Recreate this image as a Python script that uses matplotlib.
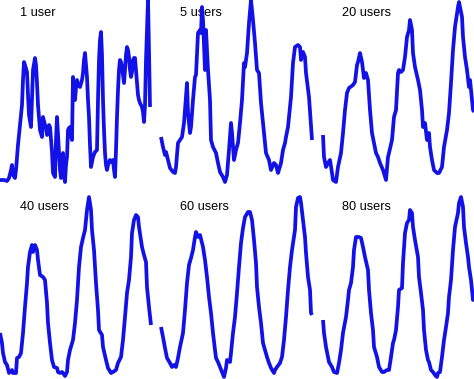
import matplotlib
matplotlib.use("Agg")
import matplotlib.pyplot as plt

# ---- data (time index, normalized load) ----
labels = ["1 user", "5 users", "20 users", "40 users", "60 users", "80 users"]

t1 = [0,4,7,9,11,12,13,15,16,18, 20,22,23,24,25,27,28,29,31,32,
      33,35,36,37,38,39,40,42,43,45, 46,47,48,49,50,51,52,53,55,56,
      57,58,59,60,61,62,63,64,65,66, 67,68,69,70,71,72,73,74,75,76,
      77,78,80,82,83,84,85,86,87,88, 89,90,91,92,93,95,97,98,99,100,
      101,102,103,104,105,106,107,108,110,112, 113,114,115,116,117,118,119,120,121,122,
      123,124,125,126,127,128,129,130,131,132, 133,134,135,136,137,138,139,140,141,142,
      143,144,145,146,147,148,149,150]
load1 = [10,10,9,12,20,25,15,12,20,45, 65,85,110,128,125,118,95,75,63,90,
         120,132,125,107,85,73,60,53,73,65, 63,55,57,65,63,50,38,17,13,50,
         73,55,38,20,12,30,37,15,8,25, 33,60,62,63,55,50,113,100,90,102,
         110,105,103,110,117,130,137,125,113,90, 73,45,23,28,33,38,40,90,130,150,
         158,135,90,60,37,25,20,25,30,28, 30,20,13,40,73,100,120,130,128,123,
         115,107,120,135,143,140,133,120,113,118, 130,132,132,120,107,95,90,87,85,83,
         78,68,85,130,160,190,140,83]

t2 = [3,5,7,8,10,12,15,17,18,20, 22,24,26,27,29,30,32,33,35,37,
      38,40,42,43,44,45,47,48,50,52, 53,55,58,60,62,65,67,69,71,73,
      74,76,78,80,82,84,86,87,89,91, 93,95,97,99,101,103,106,108,111,113,
      116,118,120,123,125,127,128,130,133,135, 137,140,142,143,145,147,148,151,154]
load2 = [53,43,35,38,30,22,18,17,23,47, 50,53,67,80,107,77,57,63,90,113,
         115,157,160,157,183,170,120,160,120,90, 50,43,37,27,18,13,8,15,40,67,
         57,30,40,47,67,90,127,123,137,167, 190,170,147,120,117,87,57,37,30,20,
         27,25,17,27,40,47,53,63,93,127, 143,145,143,130,138,133,117,93,50]

t3 = [7,8,10,12,14,16,17,20,22,25, 27,29,31,33,37,39,41,42,44,46,
      48,50,52,54,56,58,60,62,64,67, 70,72,73,76,78,80,82,83,85,87,
      89,91,93,94,96,97,99,102,104,106, 107,109,111,113,114,116,118,121,123,126,
      128,131,133,135,137,139,142,143,146,147, 149,151,153,154,155,157,158]
load3 = [55,33,23,27,30,17,10,8,23,37, 57,80,97,102,105,108,125,128,137,128,
         112,117,110,80,57,47,37,33,27,20, 10,33,37,50,73,80,117,120,118,120,
         133,153,160,170,160,137,123,110,100,80, 63,67,50,57,43,30,20,17,17,23,
         43,60,77,107,140,163,183,188,173,153, 133,120,103,110,100,80,78]

t4 = [0,2,3,5,7,9,12,13,16,17, 19,21,23,25,27,28,30,32,33,35,
      37,38,40,43,45,47,48,50,52,54, 57,58,60,62,63,65,67,68,70,73,
      75,77,79,81,83,85,87,89,91,92, 94,96,98,99,102,103,106,108,111,113,
      116,118,121,123,125,127,129,131,132,134, 136,138,139,142,144,146,147,149,151]
load4 = [47,37,27,18,15,7,10,7,7,22, 23,27,47,73,97,113,128,135,128,135,
         130,120,105,103,100,77,57,37,20,13, 12,8,7,8,7,4,8,20,30,40,
         57,80,113,133,142,150,170,183,170,150, 130,97,70,50,45,33,20,12,7,8,
         10,17,23,40,63,87,100,123,147,160, 165,163,153,133,125,118,93,73,55]

t5 = [3,5,7,9,12,14,16,18,20,22, 25,27,29,31,33,35,37,38,40,42,
      45,47,49,51,53,55,57,58,60,62, 64,66,68,69,72,73,75,77,79,81,
      83,85,87,90,92,94,96,98,99,101, 103,105,107,109,111,113,116,117,119,122,
      124,126,128,130,132,134,137,138,140,142, 143,145,147,148,150,152,153,154]
load5 = [53,43,32,22,17,13,15,13,22,33, 47,70,97,115,122,130,143,148,143,145,
         133,120,103,83,67,47,30,22,18,13, 8,3,12,20,18,27,47,63,87,113,
         137,152,163,168,168,160,140,117,93,73, 57,37,30,23,17,12,7,10,13,17,
         23,40,63,90,113,130,150,173,182,183, 177,160,143,127,103,90,67,65]

t6 = [7,8,10,12,13,16,18,21,23,25, 27,30,32,33,35,37,38,40,43,45,
      47,49,52,53,55,57,58,61,63,66, 68,71,73,75,77,78,80,82,83,86,
      87,89,91,93,94,96,97,99,102,103, 105,107,108,110,112,113,115,117,119,121,
      122,124,126,128,130,132,133,135,137,139, 142,143,145,147,148,150,152,153,155,157,158]
load6 = [60,47,33,23,18,13,8,7,17,30, 47,63,80,90,97,113,130,143,143,142,
         133,123,110,90,67,50,33,23,13,8, 8,10,10,23,37,40,50,73,90,92,
         117,147,157,160,170,167,153,140,123,103, 87,70,50,30,20,18,10,8,5,3,
         7,8,23,40,53,67,83,100,130,153, 167,177,183,173,153,137,123,113,100,80,83]

series_t = [t1, t2, t3, t4, t5, t6]
series_y = [load1, load2, load3, load4, load5, load6]

# ---- layout ----
W, H = 474, 379
fig = plt.figure(figsize=(W / 100, H / 100), dpi=100)
fig.patch.set_facecolor("white")

line_color = "#1212e8"
label_x = [20, 22, 26]
for i in range(6):
    r, c = divmod(i, 3)
    left = c * 158 / W
    if r == 0:
        bottom, height = 189 / H, 190 / H
        ylim = (0, 190)
        ly = 1 - 12.5 / 190
    else:
        bottom, height = 0, 189 / H
        ylim = (1, 190)
        ly = 1 - 17.5 / 189
    ax = fig.add_axes([left, bottom, 158 / W, height])
    ax.plot(series_t[i], series_y[i], color=line_color, lw=2.7,
            solid_joinstyle="round", solid_capstyle="butt",
            clip_on=False, zorder=3)
    ax.set_xlim(0, 158)
    ax.set_ylim(*ylim)
    ax.axis("off")
    ax.text(label_x[c] / 158, ly, labels[i], transform=ax.transAxes,
            ha="left", va="center", fontsize=9.2,
            family=["Liberation Sans", "DejaVu Sans"], color="black", zorder=2)

fig.savefig("out.png", dpi=100, facecolor="white")
